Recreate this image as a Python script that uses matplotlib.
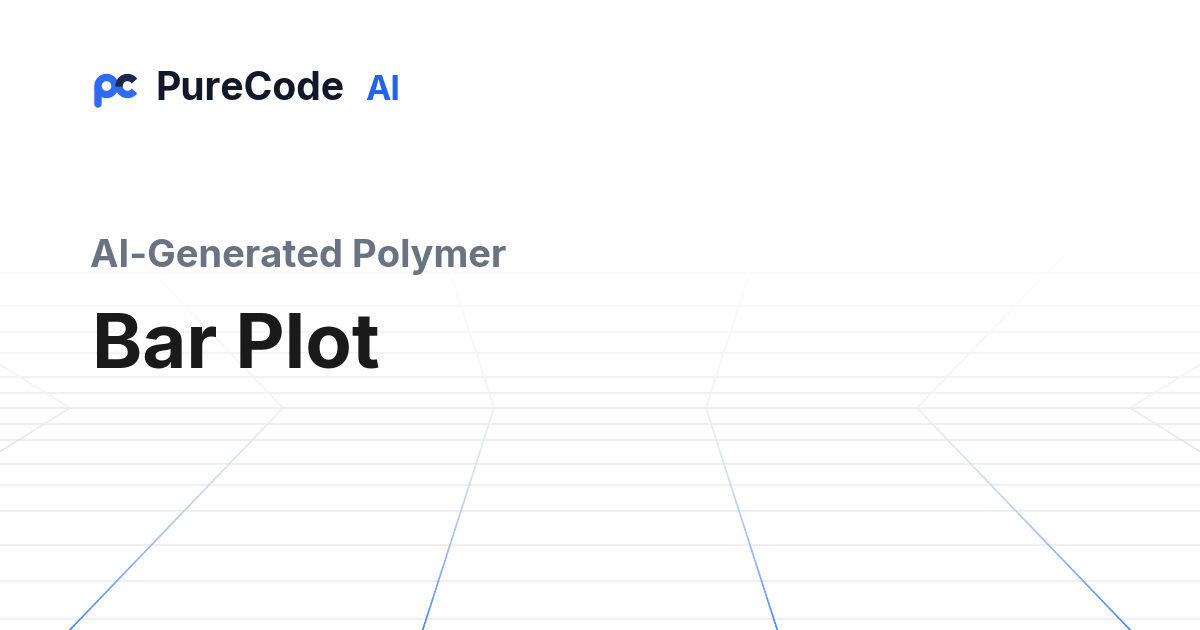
import numpy as np
import matplotlib
matplotlib.use("Agg")
import matplotlib.pyplot as plt
from matplotlib.collections import LineCollection
from matplotlib.patches import Wedge, FancyBboxPatch
from matplotlib.colors import to_rgb

# banner texts
brand = "PureCode"
brand_tag = "AI"
subtitle = "AI-Generated Polymer"
title = "Bar Plot"

# background grid (pixels)
horizon_y = 408
vertex_x = [70, 283, 494, 706, 917, 1130]
floor_y = [273, 306, 332, 353, 377, 393, 408, 424, 440, 464, 485, 511, 545, 581, 619]

W, H = 1200, 630
fig = plt.figure(figsize=(12, 6.3), dpi=100)
ax = fig.add_axes([0, 0, 1, 1])
ax.set_xlim(0, W)
ax.set_ylim(H, 0)
ax.axis("off")
fig.patch.set_facecolor("white")


def mix(c1, c2, t):
    a, b = np.array(to_rgb(c1)), np.array(to_rgb(c2))
    return tuple(a + (b - a) * t)


# horizontal lines, fainter towards the top
for y in floor_y:
    t = 0.0 if y >= horizon_y else (horizon_y - y) / (horizon_y - 255)
    ax.plot([0, W], [y, y], color=mix("#efefef", "#ffffff", 0.8 * t), lw=1.6, zorder=1)

# converging lines: gray near the horizon, blue at the bottom, fading upwards
cx, depth = 600, 330
for xv in vertex_x:
    k = (xv - cx) / depth
    # lower half
    ys = np.linspace(horizon_y, H, 80)
    xs = xv + k * (ys - horizon_y)
    pts = np.column_stack([xs, ys]).reshape(-1, 1, 2)
    segs = np.concatenate([pts[:-1], pts[1:]], axis=1)
    tt = (ys[:-1] - horizon_y) / (H - horizon_y)
    cols = [mix("#ededed", "#3d7ff2", t ** 1.5) for t in tt]
    ax.add_collection(LineCollection(segs, colors=cols, linewidths=1.2, zorder=2))
    # upper half
    ys = np.linspace(horizon_y, 233, 60)
    xs = xv + k * (horizon_y - ys)
    pts = np.column_stack([xs, ys]).reshape(-1, 1, 2)
    segs = np.concatenate([pts[:-1], pts[1:]], axis=1)
    tt = (horizon_y - ys[:-1]) / (horizon_y - 233)
    cols = [mix("#f0f0f0", "#ffffff", t ** 0.8) for t in tt]
    ax.add_collection(LineCollection(segs, colors=cols, linewidths=1.1, zorder=2))

# logo mark "pc"
blue = "#2f6bf0"
ax.add_patch(Wedge((106.5, 86), 11.5, 0, 360, width=6, color=blue, zorder=5))
ax.add_patch(FancyBboxPatch((95, 86), 6, 21, boxstyle="round,pad=0,rounding_size=3",
                            color=blue, zorder=5))
ax.add_patch(Wedge((127.5, 86), 11.5, 40, 180, width=6, color=blue, zorder=5))
ax.add_patch(Wedge((127.5, 86), 11.5, 180, 320, width=6, color="#1e2a4a", zorder=5))

# texts, sized so their widths match the banner
font = ["Inter", "DejaVu Sans"]
renderer = fig.canvas.get_renderer()


def fit_text(x, y, s, width, size, **kw):
    t = ax.text(x, y, s, fontsize=size, family=font, va="baseline", ha="left",
                zorder=6, **kw)
    w = t.get_window_extent(renderer).width
    t.set_fontsize(size * width / w)
    return t


fit_text(155, 100, brand, 190, 24, fontweight="bold", color="#111827")
fit_text(365, 100, brand_tag, 35, 24, fontweight="bold", color="#2563eb")
fit_text(90, 267, subtitle, 418, 24, fontweight="bold", color="#6b7280")
fit_text(92, 368, title, 288, 55, fontweight="bold", color="#1a1a1a")

fig.savefig("out.png", dpi=100, facecolor="white")
